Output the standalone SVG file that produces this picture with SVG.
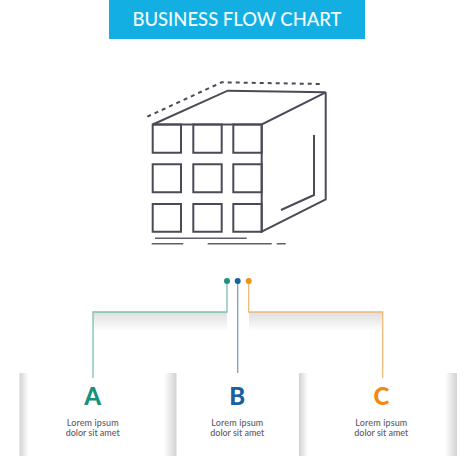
<svg xmlns="http://www.w3.org/2000/svg" width="474" height="474" viewBox="0 0 474 474">
<style>
.ic{fill:none;stroke:#4b4b57;stroke-width:2;stroke-linejoin:miter}
.bl{fill:none;stroke:#5f5f69;stroke-width:1.5}
.t{font-family:"Lato","Liberation Sans",sans-serif}
.big{font-size:24px;font-weight:900;text-anchor:middle}
.sm{font-size:9px;fill:#5c5c66;text-anchor:middle;font-weight:500}
.conn{fill:none;stroke-width:1.3}
</style>
<defs>
<linearGradient id="down" x1="0" y1="0" x2="0" y2="1"><stop offset="0" stop-color="#dedede"/><stop offset="1" stop-color="#fff"/></linearGradient>
<linearGradient id="fl" x1="0" y1="0" x2="1" y2="0"><stop offset="0" stop-color="#d2d2d2"/><stop offset="1" stop-color="#fff"/></linearGradient>
<linearGradient id="fr" x1="0" y1="0" x2="1" y2="0"><stop offset="0" stop-color="#fff"/><stop offset="1" stop-color="#d2d2d2"/></linearGradient>
</defs>
<rect width="474" height="474" fill="#fff"/>
<g id="header">
<rect x="109" y="0" width="256" height="39" fill="#13afe3"/>
<text class="t" x="237" y="26" font-size="18.5" font-weight="500" fill="#f2fbfe" text-anchor="middle" textLength="209" lengthAdjust="spacingAndGlyphs">BUSINESS FLOW CHART</text>
</g>
<g id="cube">
<path class="ic" d="M152.7 124.5H261.7L325.7 92.3L227.7 90.7L152.7 124.5M261.7 124.5V231.7L325.7 199.3V92.3"/>
<path class="ic" d="M152.7 124.5h28.3v28.2h-28.3zM193.3 124.5h28.4v28.2h-28.4zM233.3 124.5h28.4v28.2h-28.4zM152.7 164.3h28.3v28h-28.3zM193.3 164.3h28.4v28h-28.4zM233.3 164.3h28.4v28h-28.4zM152.7 204h28.3v27.7h-28.3zM193.3 204h28.4v27.7h-28.4zM233.3 204h28.4v27.7h-28.4z"/>
<path class="ic" d="M314 135V195L281 210"/>
<path class="ic" stroke-dasharray="4 4" d="M147.3 116.7L221.7 82.3L321.7 84"/>
<path class="bl" d="M155 238.3H246.7M151.7 243.7H183.3M207.7 243.7H271.7M276.7 243.7H285.7"/>
</g>
<g id="connectors">
<rect x="93" y="312" width="134" height="19" fill="url(#down)"/>
<rect x="249" y="312" width="134" height="19" fill="url(#down)"/>
<path class="conn" stroke="#7fbdb1" d="M227 281V312H93V378"/>
<path class="conn" stroke="#7f9fb3" d="M237.7 281V373"/>
<path class="conn" stroke="#eeba78" d="M248.7 281V312H382.7V378"/>
<circle cx="227" cy="281" r="3" fill="#1f927f"/>
<circle cx="237.7" cy="281" r="3" fill="#1a5f9e"/>
<circle cx="248.7" cy="281" r="3" fill="#f39015"/>
</g>
<g id="node-a">
<rect x="19.5" y="373" width="9" height="83" fill="url(#fl)"/>
<rect x="164" y="373" width="12.5" height="83" fill="url(#fr)"/>
<text class="t big" x="92.7" y="404.5" fill="#1a8f7d">A</text>
<text class="t sm" x="92.7" y="425.5" textLength="52">Lorem ipsum</text>
<text class="t sm" x="92.7" y="436" textLength="54">dolor sit amet</text>
</g>
<g id="node-b">
<text class="t big" x="237.3" y="404.5" fill="#1a5f9e">B</text>
<text class="t sm" x="237.3" y="425.5" textLength="52">Lorem ipsum</text>
<text class="t sm" x="237.3" y="436" textLength="54">dolor sit amet</text>
</g>
<g id="node-c">
<rect x="299" y="373" width="9" height="83" fill="url(#fl)"/>
<rect x="445" y="373" width="12" height="83" fill="url(#fr)"/>
<text class="t big" x="381.3" y="404.5" fill="#f08a12">C</text>
<text class="t sm" x="381.3" y="425.5" textLength="52">Lorem ipsum</text>
<text class="t sm" x="381.3" y="436" textLength="54">dolor sit amet</text>
</g>
</svg>
